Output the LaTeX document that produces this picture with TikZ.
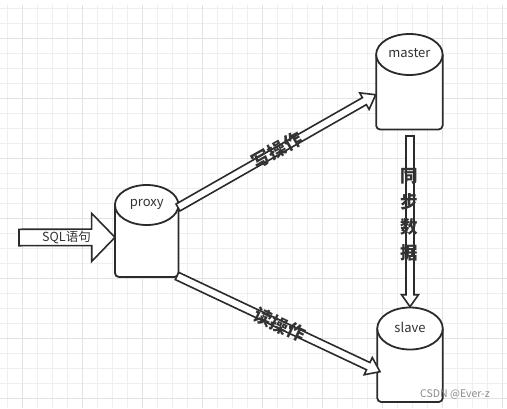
\documentclass[tikz,border=0pt]{standalone}
\usepackage{fontspec}
\setmainfont{Noto Sans CJK SC}
\usetikzlibrary{calc}
\definecolor{ink}{HTML}{2B2B2B}
\definecolor{txt}{HTML}{333333}
\definecolor{gridminor}{HTML}{EFEFEF}
\definecolor{gridmajor}{HTML}{E2E2E2}
\tikzset{
  cylline/.style={draw=ink, line width=1.8pt, fill=white},
  arrowline/.style={draw=ink, line width=1.6pt, fill=white, line join=miter},
  cyltext/.style={text=txt, font=\fontsize{13}{15}\selectfont, inner sep=0pt},
  oplabel/.style={text=txt, font=\bfseries\fontsize{18}{20}\selectfont, inner sep=0pt},
  sqltext/.style={text=txt, font=\fontsize{12.5}{14}\selectfont, inner sep=0pt},
  watermark/.style={text=black!45, font=\fontsize{10.5}{12}\selectfont, inner sep=0pt}
}
% block arrow: [opts]{start}{end}{half shaft}{half head}{head length}
\newcommand\blockarrow[6][]{%
  \draw[arrowline,#1] let \p1=(#2), \p2=(#3),
     \n1={atan2(\y2-\y1,\x2-\x1)},
     \n2={veclen(\x2-\x1,\y2-\y1)-#6} in
     ($(\p1)+(\n1+90:#4)$) -- ($(\p1)+(\n1:\n2)+(\n1+90:#4)$)
     -- ($(\p1)+(\n1:\n2)+(\n1+90:#5)$) -- (\p2)
     -- ($(\p1)+(\n1:\n2)+(\n1-90:#5)$) -- ($(\p1)+(\n1:\n2)+(\n1-90:#4)$)
     -- ($(\p1)+(\n1-90:#4)$) -- cycle;}
% cylinder: {name}{cx}{top}{width}{height}{ry}{text}
\newcommand\dbcyl[7]{%
  \pgfmathsetmacro\cL{#2-#4/2}\pgfmathsetmacro\cR{#2+#4/2}%
  \pgfmathsetmacro\cT{-(#3+#6)}\pgfmathsetmacro\cB{-(#3+#5)}%
  \pgfmathsetmacro\cRx{#4/2}%
  \fill[white] (\cL,\cT) rectangle (\cR,\cB);
  \draw[cylline, rounded corners=4pt] (\cL,\cT) -- (\cL,\cB) -- (\cR,\cB) -- (\cR,\cT);
  \draw[cylline] (#2,\cT) ellipse [x radius=\cRx, y radius=#6];
  \node[cyltext] (#1) at (#2,{\cT+1}) {#7};}
\begin{document}
\begin{tikzpicture}[x=1pt,y=1pt]
\useasboundingbox (0,0) rectangle (507,-408);
\fill[white] (0,0) rectangle (507,-408);
% grid
\foreach \gx in {7.3,22.3,...,507} {\draw[gridminor, line width=0.8pt] (\gx,-5) -- (\gx,-408);}
\foreach \gy in {8.3,23.3,...,408} {\draw[gridminor, line width=0.8pt] (0,-\gy) -- (507,-\gy);}
\foreach \gx in {22.3,82.3,...,507} {\draw[gridmajor, line width=0.9pt] (\gx,-5) -- (\gx,-408);}
\foreach \gy in {38.3,98.3,...,408} {\draw[gridmajor, line width=0.9pt] (0,-\gy) -- (507,-\gy);}

% cylinders
\dbcyl{proxy}{146.7}{185}{63.5}{92}{20}{proxy}
\dbcyl{master}{409.4}{34}{66.5}{95.5}{20.5}{master}
\dbcyl{slave}{410}{307.5}{65.5}{94.5}{21}{slave}

% connector end points
\coordinate (sqlA) at (19,-237.5);
\coordinate (sqlB) at (115,-237.3);
\coordinate (wrA) at (178,-207.5);
\coordinate (wrB) at (375.7,-94.7);
\coordinate (rdA) at (177,-276);
\coordinate (rdB) at (380,-371.7);
\coordinate (syA) at (410,-136);
\coordinate (syB) at (410,-306.7);

\blockarrow{sqlA}{sqlB}{8.2}{24}{23.3}
\blockarrow{wrA}{wrB}{4}{9.5}{13}
\blockarrow{rdA}{rdB}{4}{9.5}{13}
\blockarrow{syA}{syB}{4}{8.5}{12}

% labels
\node[sqltext] (sqllabel) at (66.5,-237.5) {SQL语句};
\node[oplabel, rotate=29.3] (wrlabel) at (277,-150) {写操作};
\node[oplabel, rotate=-25.2] (rdlabel) at (280,-325) {读操作};
\node[oplabel, align=center, font=\bfseries\fontsize{17.5}{25.5}\selectfont] (sylabel) at (409.5,-215) {同\\步\\数\\据};
\node[watermark] (wm) at (455,-394) {CSDN @Ever-z};
\end{tikzpicture}
\end{document}
